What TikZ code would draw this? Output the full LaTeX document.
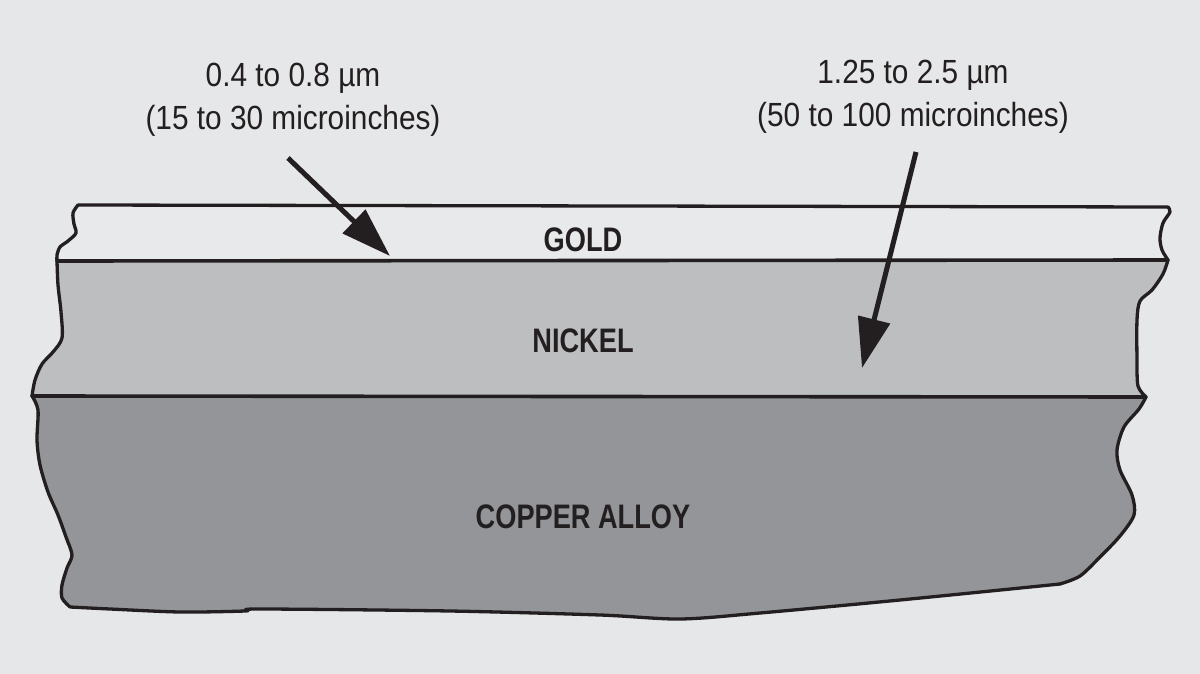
\documentclass[tikz,border=0pt]{standalone}
\usepackage{fontspec}
\usetikzlibrary{arrows.meta}
\newfontfamily\lblfont[FakeStretch=0.89]{Liberation Sans}
\newfontfamily\layfont[FakeStretch=0.8]{Liberation Sans Bold}
\definecolor{bgc}{HTML}{E6E7E8}
\definecolor{goldc}{HTML}{E8E9EA}
\definecolor{nickc}{HTML}{BCBEC0}
\definecolor{copc}{HTML}{939598}
\definecolor{inkc}{HTML}{231F20}
\tikzset{
  outline/.style={draw=inkc, line width=3.3pt, line cap=round, line join=round},
  layline/.style={draw=inkc, line width=3.6pt, line cap=round},
  arr/.style={draw=inkc, line width=5pt, -{Triangle[length=50pt,width=32pt]}},
  dimtext/.style={text=inkc, font=\lblfont\fontsize{33.5}{42.5}\selectfont, align=center, inner sep=0pt},
  laytext/.style={text=inkc, font=\layfont\fontsize{34}{40}\selectfont, inner sep=0pt},
}
\begin{document}
\begin{tikzpicture}[x=1pt,y=-1pt]
\fill[bgc] (0,0) rectangle (1200,674);
\useasboundingbox (0,0) rectangle (1200,674);
% fills
\fill[goldc] plot[smooth] coordinates {(78,205) (73,213) (74,224) (76,233) (68,241) (60,247) (57,255) (57,261)}
  -- plot[smooth] coordinates {(1168,260) (1162,250) (1160,238) (1163,223) (1170,212) (1168,207)} -- cycle;
\fill[nickc] plot[smooth] coordinates {(57,261) (58,285) (61,312) (62,338) (53,352) (42,364) (35,380) (32,396)}
  -- plot[smooth] coordinates {(1146,397) (1138,386) (1137,360) (1137,320) (1140,301) (1152,290) (1163,274) (1168,260)} -- cycle;
\fill[copc] plot[smooth] coordinates {(32,396) (38,410) (37,440) (40,465) (48,492) (58,515) (66,537) (72,555) (67,568) (62,585) (62,598) (70,607)}
  -- plot[smooth] coordinates {(70,607) (110,609) (180,612) (245,611) (260,609) (450,611) (600,615) (680,619) (760,613) (900,600) (1060,584)}
  -- plot[smooth] coordinates {(1060,584) (1080,576) (1100,557) (1120,536) (1134,515) (1132,495) (1120,470) (1117,450) (1124,427) (1139,409) (1146,397)} -- cycle;
% outlines
\draw[outline] (78,205) -- (1168,207);
\draw[outline] plot[smooth] coordinates {(78,205) (73,213) (74,224) (76,233) (68,241) (60,247) (57,255) (57,261)};
\draw[outline] plot[smooth] coordinates {(57,261) (58,285) (61,312) (62,338) (53,352) (42,364) (35,380) (32,396)};
\draw[outline] plot[smooth] coordinates {(32,396) (38,410) (37,440) (40,465) (48,492) (58,515) (66,537) (72,555) (67,568) (62,585) (62,598) (70,607)};
\draw[outline] plot[smooth] coordinates {(70,607) (110,609) (180,612) (245,611) (260,609) (450,611) (600,615) (680,619) (760,613) (900,600) (1060,584)};
\draw[outline] plot[smooth] coordinates {(1060,584) (1080,576) (1100,557) (1120,536) (1134,515) (1132,495) (1120,470) (1117,450) (1124,427) (1139,409) (1146,397)};
\draw[outline] plot[smooth] coordinates {(1146,397) (1138,386) (1137,360) (1137,320) (1140,301) (1152,290) (1163,274) (1168,260)};
\draw[outline] plot[smooth] coordinates {(1168,260) (1162,250) (1160,238) (1163,223) (1170,212) (1168,207)};
% layer boundaries
\draw[layline] (57,261) -- (1168,260);
\draw[layline] (32,396) -- (1146,397);
% labels
\node[laytext] (gold) at (583,240) {GOLD};
\node[laytext] (nickel) at (583,341) {NICKEL};
\node[laytext] (copper) at (583,517) {COPPER ALLOY};
\node[dimtext] (t1) at (293,100) {0.4 to 0.8 µm\\(15 to 30 microinches)};
\node[dimtext] (t2) at (913,97) {1.25 to 2.5 µm\\(50 to 100 microinches)};
% arrows
\coordinate (a1s) at (288,158);
\coordinate (a1e) at (390,256);
\coordinate (a2s) at (916,152);
\coordinate (a2e) at (862,368);
\draw[arr] (a1s) -- (a1e);
\draw[arr] (a2s) -- (a2e);
\end{tikzpicture}
\end{document}
